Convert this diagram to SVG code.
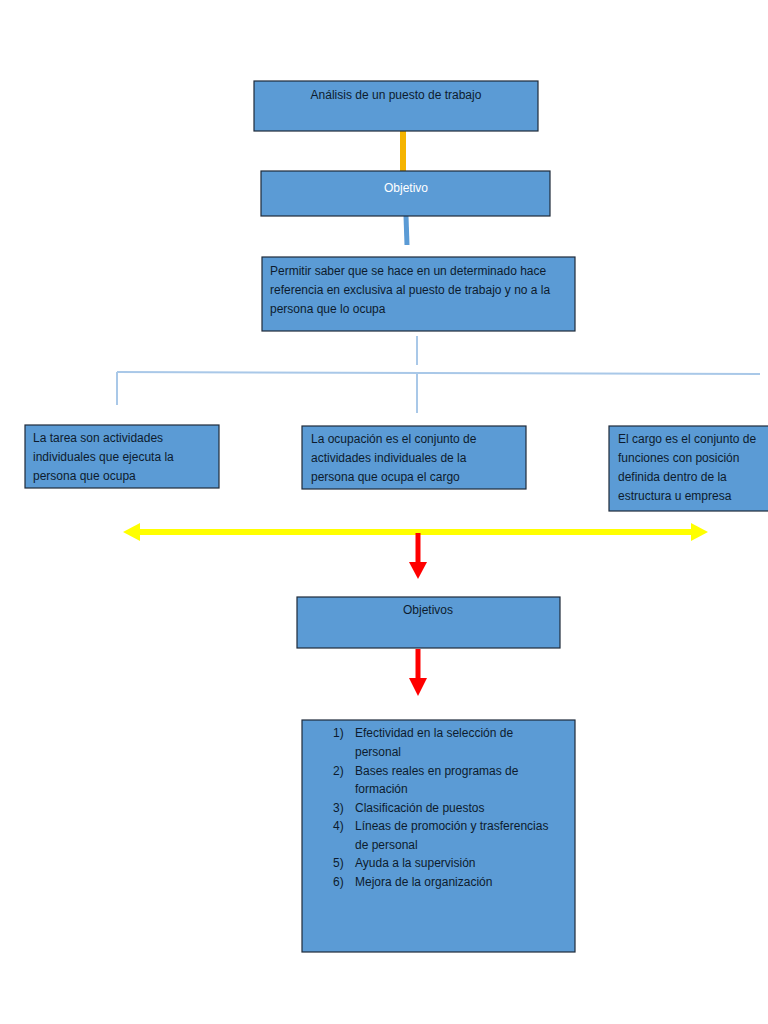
<svg xmlns="http://www.w3.org/2000/svg" width="768" height="1024" viewBox="0 0 768 1024">
<style>
.b{fill:#5b9bd5;stroke:#1f2a3a;stroke-width:1.2}
text{font-family:"Liberation Sans",Arial,sans-serif;font-size:12px;fill:#0d1b2e}
.w{fill:#ffffff}
.t{fill:none;stroke:#a9c8e8;stroke-width:2}
</style>
<rect width="768" height="1024" fill="#fff"/>
<g id="connectors">
<line x1="403" y1="131" x2="403" y2="171" stroke="#f5b400" stroke-width="6"/>
<line x1="406" y1="216" x2="407" y2="245" stroke="#5b9bd5" stroke-width="5"/>
<line class="t" x1="417" y1="336" x2="417" y2="365"/>
<line class="t" x1="117" y1="372" x2="760" y2="374"/>
<line class="t" x1="117" y1="372" x2="117" y2="405"/>
<line class="t" x1="417" y1="373" x2="417" y2="413"/>
<line x1="138" y1="532" x2="694" y2="532" stroke="#ffff00" stroke-width="6"/>
<polygon points="123,532 140,523 140,541" fill="#ffff00"/>
<polygon points="708,532 691,523 691,541" fill="#ffff00"/>
<line x1="418" y1="533" x2="418" y2="564" stroke="#ff0000" stroke-width="5"/>
<polygon points="409,562 427,562 418,579" fill="#ff0000"/>
<line x1="418" y1="649" x2="418" y2="680" stroke="#ff0000" stroke-width="5"/>
<polygon points="409,678 427,678 418,696" fill="#ff0000"/>
</g>
<g id="n1"><rect class="b" x="254" y="81" width="284" height="50"/><text x="396" y="99" text-anchor="middle">Análisis de un puesto de trabajo</text></g>
<g id="n2"><rect class="b" x="261" y="171" width="289" height="45"/><text class="w" x="406" y="192" text-anchor="middle">Objetivo</text></g>
<g id="n3"><rect class="b" x="262" y="257" width="313" height="74"/>
<text x="270" y="275">Permitir saber que se hace en un  determinado hace</text>
<text x="270" y="294">referencia en exclusiva al puesto de trabajo y no a la</text>
<text x="270" y="313">persona que lo ocupa</text></g>
<g id="n4"><rect class="b" x="25" y="425" width="194" height="63"/>
<text x="33" y="442">La tarea son actividades</text>
<text x="33" y="461">individuales que ejecuta la</text>
<text x="33" y="480">persona que ocupa</text></g>
<g id="n5"><rect class="b" x="302" y="426" width="224" height="63"/>
<text x="311" y="443">La ocupación es el conjunto de</text>
<text x="311" y="462">actividades individuales de la</text>
<text x="311" y="481">persona que ocupa el cargo</text></g>
<g id="n6"><rect class="b" x="609" y="426" width="165" height="85"/>
<text x="618" y="443">El cargo es el conjunto de</text>
<text x="618" y="462">funciones con posición</text>
<text x="618" y="481">definida dentro de la</text>
<text x="618" y="500">estructura u empresa</text></g>
<g id="n7"><rect class="b" x="297" y="597" width="263" height="51"/><text x="428" y="614" text-anchor="middle">Objetivos</text></g>
<g id="n8"><rect class="b" x="302" y="720" width="273" height="232"/>
<text x="333" y="737">1)</text><text x="355" y="737">Efectividad en la selección de</text>
<text x="355" y="756">personal</text>
<text x="333" y="775">2)</text><text x="355" y="775">Bases reales en programas de</text>
<text x="355" y="793">formación</text>
<text x="333" y="812">3)</text><text x="355" y="812">Clasificación de puestos</text>
<text x="333" y="830">4)</text><text x="355" y="830">Líneas de promoción y trasferencias</text>
<text x="355" y="849">de personal</text>
<text x="333" y="867">5)</text><text x="355" y="867">Ayuda a la supervisión</text>
<text x="333" y="886">6)</text><text x="355" y="886">Mejora de la organización</text></g>
</svg>
